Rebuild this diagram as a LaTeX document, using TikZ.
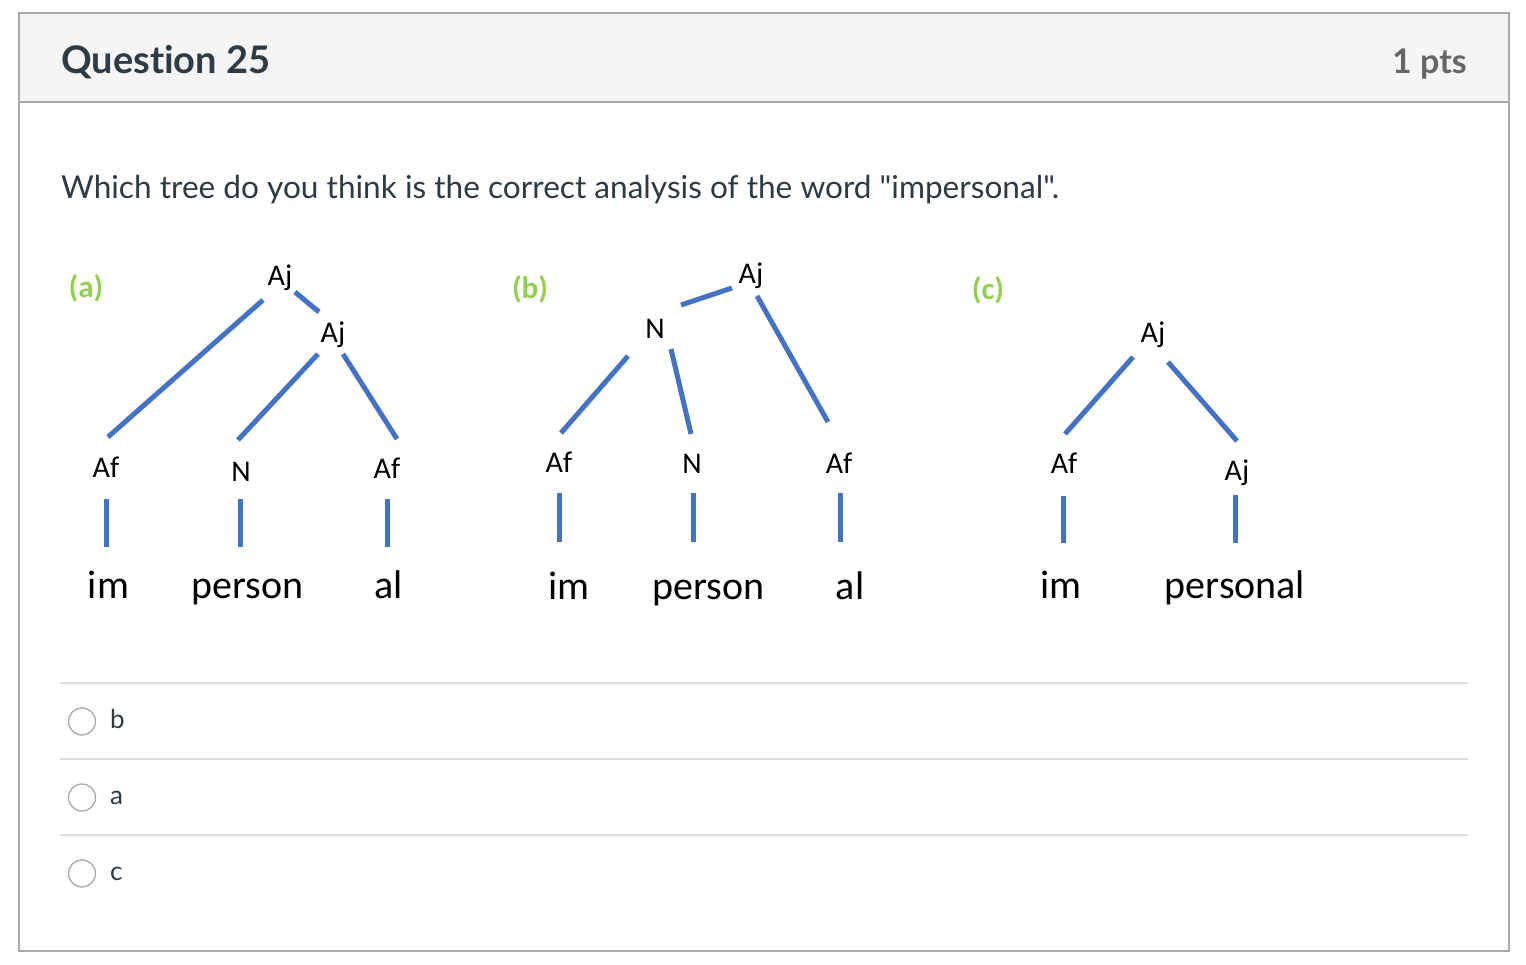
\documentclass[tikz,border=0pt]{standalone}
\usepackage{fontspec}
\setmainfont{Lato}[Ligatures={TeXOff,CommonOff}]
\newfontfamily\calib{Carlito}
\definecolor{ink}{HTML}{2D3B45}
\definecolor{frame}{HTML}{A9A9A9}
\definecolor{headbg}{HTML}{F5F5F5}
\definecolor{sep}{HTML}{DDDDDD}
\definecolor{treeblue}{HTML}{4472C4}
\definecolor{labgreen}{HTML}{92D050}
\definecolor{ptsgray}{HTML}{666666}
\tikzset{
  edge/.style={draw=treeblue, line width=5pt},
  cat/.style={anchor=base, inner sep=0pt, font=\calib\fontsize{30}{36}\selectfont},
  word/.style={anchor=base, inner sep=0pt, font=\calib\fontsize{40}{48}\selectfont},
  treelab/.style={anchor=center, inner sep=0pt, text=labgreen, font=\calib\bfseries\fontsize{31}{36}\selectfont},
  radio/.style={circle, draw=frame, line width=1.3pt, fill=white, minimum size=27pt, inner sep=0pt},
  optlab/.style={anchor=base west, inner sep=0pt, text=ink, font=\fontsize{26}{30}\selectfont},
}
\begin{document}
\begin{tikzpicture}[x=1pt,y=-1pt]
\useasboundingbox (0,0) rectangle (1526,964);
% frame and header
\fill[white] (0,0) rectangle (1526,964);
\fill[headbg] (19,13) rectangle (1509,102);
\draw[frame, line width=2pt] (19,102) -- (1509,102);
\draw[frame, line width=2pt] (19,13) rectangle (1509,951);
\node[anchor=base west, inner sep=0pt, text=ink, font=\bfseries\fontsize{38}{44}\selectfont] (title) at (61,73) {Question 25};
\node[anchor=base east, inner sep=0pt, text=ptsgray, font=\bfseries\fontsize{34}{40}\selectfont] (pts) at (1467,73) {1 pts};
\node[anchor=base west, inner sep=0pt, text=ink, font=\fontsize{31.6}{38}\selectfont] (qtext) at (61,198) {Which tree do you think is the correct analysis of the word "impersonal".};

% ---------- tree (a)
\node[treelab] (la) at (86,288) {(a)};
\node[cat] (aAj1) at (280,285) {Aj};
\node[cat] (aAj2) at (333,342) {Aj};
\node[cat] (aAf1) at (106,477) {Af};
\node[cat] (aN)   at (241,481) {N};
\node[cat] (aAf2) at (387,478) {Af};
\node[word] (aw1) at (108.5,598) {im};
\node[word] (aw2) at (247.5,598) {person};
\node[word] (aw3) at (388.5,598) {al};
\draw[edge] ([shift={(15,7)}]aAj1.base) -- ([shift={(-14,-30)}]aAj2.base);
\draw[edge] ([shift={(-17,15)}]aAj1.base) -- ([shift={(2,-40)}]aAf1.base);
\draw[edge] ([shift={(-15,12)}]aAj2.base) -- ([shift={(-3,-41)}]aN.base);
\draw[edge] ([shift={(10,12)}]aAj2.base) -- ([shift={(10,-39)}]aAf2.base);
\draw[edge] ([shift={(0,22)}]aAf1.base) -- ([shift={(-2.5,-51)}]aw1.base);
\draw[edge] ([shift={(-1,18)}]aN.base) -- ([shift={(-7.5,-51)}]aw2.base);
\draw[edge] ([shift={(0,21)}]aAf2.base) -- ([shift={(-1.5,-51)}]aw3.base);

% ---------- tree (b)
\node[treelab] (lb) at (530,289) {(b)};
\node[cat] (bAj)  at (751,283) {Aj};
\node[cat] (bN1)  at (655,338) {N};
\node[cat] (bAf1) at (559,472) {Af};
\node[cat] (bN2)  at (692,473) {N};
\node[cat] (bAf2) at (839,473) {Af};
\node[word] (bw1) at (569,599) {im};
\node[word] (bw2) at (708.5,599) {person};
\node[word] (bw3) at (850,599) {al};
\draw[edge] ([shift={(-19,5)}]bAj.base) -- ([shift={(26,-33)}]bN1.base);
\draw[edge] ([shift={(6,13)}]bAj.base) -- ([shift={(-11,-51)}]bAf2.base);
\draw[edge] ([shift={(-27,18)}]bN1.base) -- ([shift={(2,-39)}]bAf1.base);
\draw[edge] ([shift={(16,11)}]bN1.base) -- ([shift={(-1,-39)}]bN2.base);
\draw[edge] ([shift={(0,21)}]bAf1.base) -- ([shift={(-10,-57)}]bw1.base);
\draw[edge] ([shift={(1,20)}]bN2.base) -- ([shift={(-15.5,-57)}]bw2.base);
\draw[edge] ([shift={(1,20)}]bAf2.base) -- ([shift={(-10,-57)}]bw3.base);

% ---------- tree (c)
\node[treelab] (lc) at (988,290) {(c)};
\node[cat] (cAj1) at (1153,342) {Aj};
\node[cat] (cAf)  at (1064,473) {Af};
\node[cat] (cAj2) at (1237,480) {Aj};
\node[word] (cw1) at (1061,598) {im};
\node[word] (cw2) at (1235,598) {personal};
\draw[edge] ([shift={(-20,15)}]cAj1.base) -- ([shift={(1,-39)}]cAf.base);
\draw[edge] ([shift={(15,20)}]cAj1.base) -- ([shift={(0,-39)}]cAj2.base);
\draw[edge] ([shift={(-1,23)}]cAf.base) -- ([shift={(2,-55)}]cw1.base);
\draw[edge] ([shift={(-2,15)}]cAj2.base) -- ([shift={(0,-55)}]cw2.base);

% ---------- answers
\coordinate (s1l) at (60,683); \coordinate (s1r) at (1468,683);
\coordinate (s2l) at (60,759); \coordinate (s2r) at (1468,759);
\coordinate (s3l) at (60,835); \coordinate (s3r) at (1468,835);
\draw[sep, line width=2pt] (s1l) -- (s1r);
\draw[sep, line width=2pt] (s2l) -- (s2r);
\draw[sep, line width=2pt] (s3l) -- (s3r);
\node[radio] (r1) at (82,721.5) {};
\node[radio] (r2) at (82,797.5) {};
\node[radio] (r3) at (82,873.5) {};
\node[optlab] (o1) at (110,728) {b};
\node[optlab] (o2) at (110,804) {a};
\node[optlab] (o3) at (110,880) {c};
\end{tikzpicture}
\end{document}
